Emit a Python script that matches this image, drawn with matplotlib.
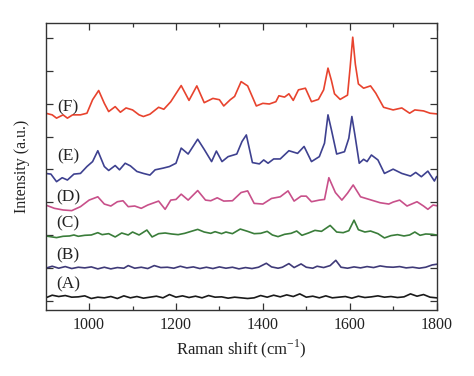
import matplotlib
matplotlib.use("Agg")
import matplotlib.pyplot as plt
from matplotlib.ticker import MultipleLocator, FixedLocator, NullFormatter

plt.rcParams['font.family'] = ['Liberation Serif', 'DejaVu Serif']
plt.rcParams['mathtext.fontset'] = 'custom'
plt.rcParams['mathtext.rm'] = 'Liberation Serif'

# ---- data (offset intensities, a.u.) ----
xA = [900, 915, 930, 945, 960, 975, 990, 1005, 1020, 1035, 1050, 1065, 1080, 1095, 1110, 1125, 1140, 1155,
      1170, 1185, 1200, 1215, 1230, 1245, 1260, 1275, 1290, 1305, 1320, 1335, 1350, 1365, 1380, 1395, 1410,
      1425, 1440, 1455, 1470, 1485, 1500, 1515, 1530, 1545, 1560, 1575, 1590, 1605, 1620, 1635, 1650, 1665,
      1680, 1695, 1710, 1725, 1740, 1755, 1770, 1785, 1800]
yA = [0.10, 0.18, 0.14, 0.17, 0.12, 0.13, 0.16, 0.08, 0.12, 0.10, 0.14, 0.08, 0.16, 0.10, 0.14, 0.09, 0.12, 0.15,
      0.10, 0.20, 0.12, 0.16, 0.11, 0.15, 0.10, 0.17, 0.12, 0.13, 0.09, 0.12, 0.10, 0.08, 0.10, 0.17, 0.12,
      0.18, 0.13, 0.19, 0.14, 0.22, 0.12, 0.15, 0.10, 0.16, 0.10, 0.12, 0.14, 0.09, 0.15, 0.11, 0.13, 0.16,
      0.12, 0.14, 0.11, 0.13, 0.22, 0.15, 0.20, 0.12, 0.10]

xB = [900, 915, 930, 945, 960, 975, 990, 1005, 1020, 1035, 1050, 1065, 1080, 1090, 1105, 1120, 1135, 1150, 1165,
      1180, 1195, 1210, 1225, 1240, 1255, 1270, 1285, 1300, 1315, 1330, 1345, 1360, 1375, 1390, 1408, 1420,
      1435, 1445, 1460, 1472, 1488, 1500, 1515, 1525, 1540, 1555, 1568, 1580, 1595, 1610, 1625, 1640, 1655,
      1670, 1685, 1700, 1715, 1730, 1745, 1760, 1775, 1790, 1800]
yB = [1.00, 1.06, 1.00, 1.05, 0.99, 1.03, 1.01, 1.04, 0.98, 1.03, 0.98, 1.02, 1.00, 1.08, 1.00, 1.03, 0.99, 1.08, 1.02,
      1.03, 1.00, 1.06, 1.01, 1.04, 0.99, 1.03, 0.99, 1.04, 1.00, 1.03, 0.98, 1.02, 0.99, 1.03, 1.15, 1.04,
      1.00, 1.03, 1.14, 1.02, 1.13, 1.03, 1.00, 1.06, 1.02, 1.08, 1.24, 1.03, 1.00, 1.04, 1.01, 1.05, 1.02,
      1.07, 1.04, 1.03, 1.05, 1.01, 1.03, 1.00, 1.03, 1.10, 1.12]

xC = [900, 915, 925, 940, 955, 965, 975, 990, 1005, 1020, 1030, 1045, 1060, 1075, 1090, 1100, 1115, 1133, 1145,
      1160, 1175, 1190, 1205, 1220, 1235, 1250, 1265, 1280, 1290, 1305, 1315, 1330, 1348, 1365, 1380, 1395,
      1410, 1422, 1435, 1450, 1465, 1478, 1490, 1505, 1520, 1535, 1555, 1570, 1585, 1598, 1610, 1620, 1635,
      1648, 1665, 1680, 1695, 1710, 1725, 1738, 1750, 1762, 1775, 1790, 1800]
yC = [1.98, 1.95, 1.93, 1.97, 1.98, 2.01, 1.97, 2.00, 2.01, 2.08, 2.02, 2.05, 1.95, 2.07, 2.01, 2.10, 2.01, 2.16, 1.95,
      2.05, 2.07, 2.04, 2.02, 2.06, 2.12, 2.18, 2.10, 2.06, 2.11, 2.05, 2.10, 2.05, 2.19, 2.12, 2.05, 2.06,
      2.12, 2.01, 1.96, 2.03, 2.06, 2.13, 2.00, 2.07, 2.15, 2.12, 2.30, 2.10, 2.08, 2.14, 2.46, 2.17, 2.10,
      2.13, 2.05, 1.92, 1.99, 2.02, 1.98, 2.01, 2.10, 2.00, 2.04, 2.03, 2.01]

xD = [900, 920, 940, 960, 980, 1000, 1020, 1035, 1050, 1065, 1078, 1090, 1105, 1120, 1135, 1160, 1175, 1188,
      1200, 1212, 1228, 1250, 1268, 1280, 1295, 1310, 1330, 1350, 1365, 1380, 1400, 1420, 1440, 1458, 1472,
      1488, 1500, 1512, 1530, 1542, 1552, 1567, 1582, 1595, 1608, 1625, 1650, 1670, 1690, 1700, 1715, 1732,
      1755, 1770, 1780, 1792, 1800]
yD = [2.92, 2.82, 2.77, 2.75, 2.87, 3.07, 3.17, 2.95, 2.89, 3.02, 3.05, 2.87, 2.89, 2.82, 2.92, 3.04, 2.79, 3.07,
      3.09, 3.25, 3.07, 3.36, 3.07, 3.05, 3.14, 3.04, 3.05, 3.30, 3.35, 2.97, 2.95, 3.12, 3.17, 3.35, 3.04,
      3.19, 3.19, 3.02, 3.07, 3.09, 3.75, 3.30, 3.07, 3.28, 3.53, 3.17, 3.07, 2.99, 2.95, 3.01, 3.07, 2.89,
      3.02, 2.89, 2.79, 2.92, 2.90]

xE = [900, 912, 925, 938, 950, 965, 980, 995, 1008, 1020, 1035, 1045, 1060, 1070, 1083, 1095, 1110, 1125, 1140,
      1152, 1170, 1185, 1200, 1212, 1228, 1250, 1265, 1282, 1293, 1306, 1320, 1340, 1352, 1362, 1376, 1392,
      1402, 1412, 1425, 1440, 1460, 1480, 1495, 1512, 1530, 1542, 1550, 1558, 1570, 1588, 1598, 1605, 1612,
      1622, 1632, 1640, 1650, 1665, 1680, 1700, 1720, 1740, 1752, 1765, 1780, 1795, 1800]
yE = [3.88, 3.86, 3.63, 3.75, 3.68, 3.86, 3.88, 4.09, 4.24, 4.57, 4.09, 3.97, 4.12, 3.99, 4.19, 4.11, 3.94, 3.88, 3.83,
      3.99, 4.04, 4.09, 4.19, 4.65, 4.47, 4.92, 4.61, 4.24, 4.56, 4.24, 4.39, 4.47, 4.85, 5.05, 4.21, 4.17,
      4.29, 4.19, 4.32, 4.32, 4.57, 4.49, 4.70, 4.24, 4.39, 4.80, 5.66, 5.20, 4.47, 4.54, 4.95, 5.61, 5.05,
      4.19, 4.31, 4.24, 4.44, 4.29, 3.88, 4.01, 3.88, 3.80, 3.91, 3.78, 3.95, 3.65, 3.78]

xF = [900, 915, 925, 940, 950, 962, 980, 995, 1008, 1022, 1035, 1045, 1060, 1072, 1085, 1100, 1115, 1125, 1140,
      1160, 1172, 1188, 1212, 1230, 1248, 1265, 1285, 1300, 1310, 1325, 1335, 1350, 1365, 1385, 1400, 1415,
      1430, 1437, 1450, 1460, 1470, 1482, 1498, 1512, 1528, 1540, 1550, 1558, 1565, 1578, 1595, 1601, 1607,
      1613, 1620, 1632, 1648, 1660, 1678, 1700, 1720, 1738, 1750, 1770, 1785, 1800]
yF = [5.71, 5.66, 5.56, 5.66, 5.56, 5.66, 5.66, 5.71, 6.12, 6.40, 6.01, 5.76, 5.91, 5.74, 5.87, 5.81, 5.66, 5.61, 5.68,
      5.89, 5.83, 6.06, 6.55, 6.10, 6.54, 6.03, 6.16, 6.12, 5.93, 6.12, 6.22, 6.67, 6.54, 5.93, 6.01, 5.99,
      6.06, 6.24, 6.20, 6.30, 6.10, 6.42, 6.47, 6.06, 6.13, 6.42, 7.08, 6.70, 6.30, 6.13, 6.26, 7.10, 8.02,
      7.20, 6.60, 6.47, 6.54, 6.32, 5.89, 5.81, 5.87, 5.71, 5.81, 5.78, 5.71, 5.69]

series = [
    ("(A)", xA, yA, "#1a1a1a", 0.51),
    ("(B)", xB, yB, "#3f3a78", 1.38),
    ("(C)", xC, yC, "#3a7d3a", 2.36),
    ("(D)", xD, yD, "#c8508a", 3.14),
    ("(E)", xE, yE, "#3e4190", 4.39),
    ("(F)", xF, yF, "#e8432e", 5.88),
]

fig = plt.figure(figsize=(4.74, 3.76), dpi=100)
ax = fig.add_axes([0.0964, 0.1755, 0.8246, 0.7641])

for label, xs, ys, color, ly in series:
    ax.plot(xs, ys, color=color, lw=1.2, solid_joinstyle='round')
    ax.text(951, ly, label, fontsize=12.5, color="#222222", ha="center", va="center")

ax.set_xlim(900, 1800)
ax.set_ylim(-0.27, 8.46)
ax.xaxis.set_major_locator(FixedLocator([1000, 1200, 1400, 1600, 1800]))
ax.xaxis.set_minor_locator(FixedLocator([1100, 1300, 1500, 1700]))
ax.yaxis.set_major_locator(MultipleLocator(1))
ax.yaxis.set_major_formatter(NullFormatter())
ax.tick_params(axis='both', which='major', direction='in', length=5, width=0.9,
               top=True, right=True, color="#333333", labelsize=11.5, labelcolor="#222222", pad=5)
ax.tick_params(axis='x', which='minor', direction='in', length=3, width=0.9, top=True, color="#333333")
for s in ax.spines.values():
    s.set_color("#333333")
    s.set_linewidth(1.0)

ax.set_xlabel("Raman shift (cm$^{-1}$)", fontsize=12, color="#222222", labelpad=3)
ax.set_ylabel("Intensity (a.u.)", fontsize=11.5, color="#222222")
ax.yaxis.set_label_coords(-0.04, 0.5)

fig.savefig("out.png", dpi=100)
